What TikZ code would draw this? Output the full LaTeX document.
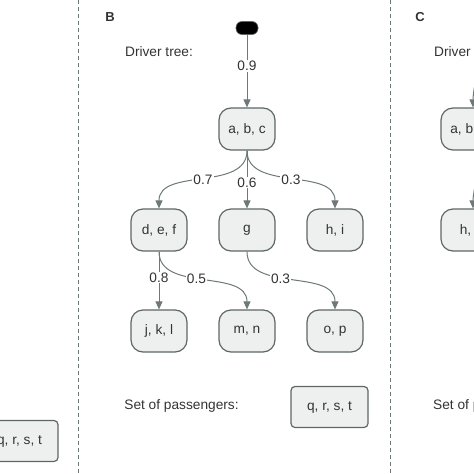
\documentclass[tikz,border=0pt]{standalone}
\usepackage{fontspec}
\setmainfont{Liberation Sans}
\usetikzlibrary{arrows.meta}
\definecolor{boxgray}{HTML}{5E6666}
\definecolor{boxfill}{HTML}{EEF0F0}
\definecolor{linegray}{HTML}{6E7878}
\definecolor{textgray}{HTML}{333333}
\begin{document}
\begin{tikzpicture}[
    x=1pt, y=-1pt,
    font=\fontsize{13.7}{16}\selectfont, text=textgray,
    state/.style={draw=boxgray, fill=boxfill, line width=1.2pt, rounded corners=12pt,
        minimum width=56pt, minimum height=42pt, inner sep=0pt},
    pool/.style={draw=boxgray, fill=boxfill, line width=1.2pt, rounded corners=4pt,
        minimum width=77pt, minimum height=41pt, inner sep=0pt},
    start/.style={fill=black, draw=boxgray, line width=0.6pt, rounded corners=6pt,
        minimum width=22pt, minimum height=13pt, inner sep=0pt},
    edge/.style={draw=linegray, line width=1pt, -{Triangle[length=8pt,width=7pt]}},
    prob/.style={fill=white, inner sep=1pt, text=textgray},
    divider/.style={draw=linegray, line width=0.8pt, dash pattern=on 4pt off 3pt}
]
\useasboundingbox (0,0) rectangle (474,474);

% Panel dividers
\coordinate (D1t) at (78.7,0);
\coordinate (D1b) at (78.7,474);
\coordinate (D2t) at (390.3,0);
\coordinate (D2b) at (390.3,474);
\draw[divider] (D1t) -- (D1b);
\draw[divider] (D2t) -- (D2b);

% Panel A
\node[pool] (Apass) at (19.5,441) {q, r, s, t};

% Panel B
\node[font=\fontsize{13}{16}\selectfont\bfseries] (Blab) at (110,17) {B};
\node (Bdriver) at (159,52) {Driver tree:};
\node[start] (Bstart) at (247,28) {};
\node[state] (Babc) at (247,129) {a, b, c};
\node[state] (Bdef) at (159,230) {d, e, f};
\node[state] (Bg) at (247,230) {g};
\node[state] (Bhi) at (335,230) {h, i};
\node[state] (Bjkl) at (159,331) {j, k, l};
\node[state] (Bmn) at (247,331) {m, n};
\node[state] (Bop) at (335,331) {o, p};

\draw[edge] (Bstart) -- node[prob, pos=0.43] {0.9} (Babc);
\draw[edge] (Babc.south) to[out=-90, in=90] node[prob] {0.7} (Bdef.north);
\draw[edge] (Babc.south) -- node[prob, pos=0.55] {0.6} (Bg.north);
\draw[edge] (Babc.south) to[out=-90, in=90] node[prob] {0.3} (Bhi.north);
\draw[edge] (Bdef.south) -- node[prob, pos=0.45] {0.8} (Bjkl.north);
\draw[edge] (Bdef.south) to[out=-90, in=90] node[prob, pos=0.45] {0.5} (Bmn.north);
\draw[edge] (Bg.south) to[out=-90, in=90] node[prob, pos=0.42] {0.3} (Bop.north);

\node (Bsetlab) at (181.5,406) {Set of passengers:};
\node[pool] (Bpass) at (329.5,407) {q, r, s, t};

% Panel C
\node[font=\fontsize{13}{16}\selectfont\bfseries] (Clab) at (420,17) {C};
\node[anchor=west, inner sep=0pt] (Cdriver) at (434,52) {Driver tree:};
\node[state] (Cabc) at (469,129) {a, b, c};
\node[state] (Chi) at (469,230) {h, i};
\coordinate (Cin1) at (476,78);
\coordinate (Cin2) at (476,180);
\draw[edge] (Cin1) to[out=-100, in=90] (Cabc.north -| 473,0);
\draw[edge] (Cin2) to[out=-100, in=90] (Chi.north -| 473,0);
\node[anchor=west, inner sep=0pt] (Csetlab) at (433,406) {Set of passengers:};
\end{tikzpicture}
\end{document}
